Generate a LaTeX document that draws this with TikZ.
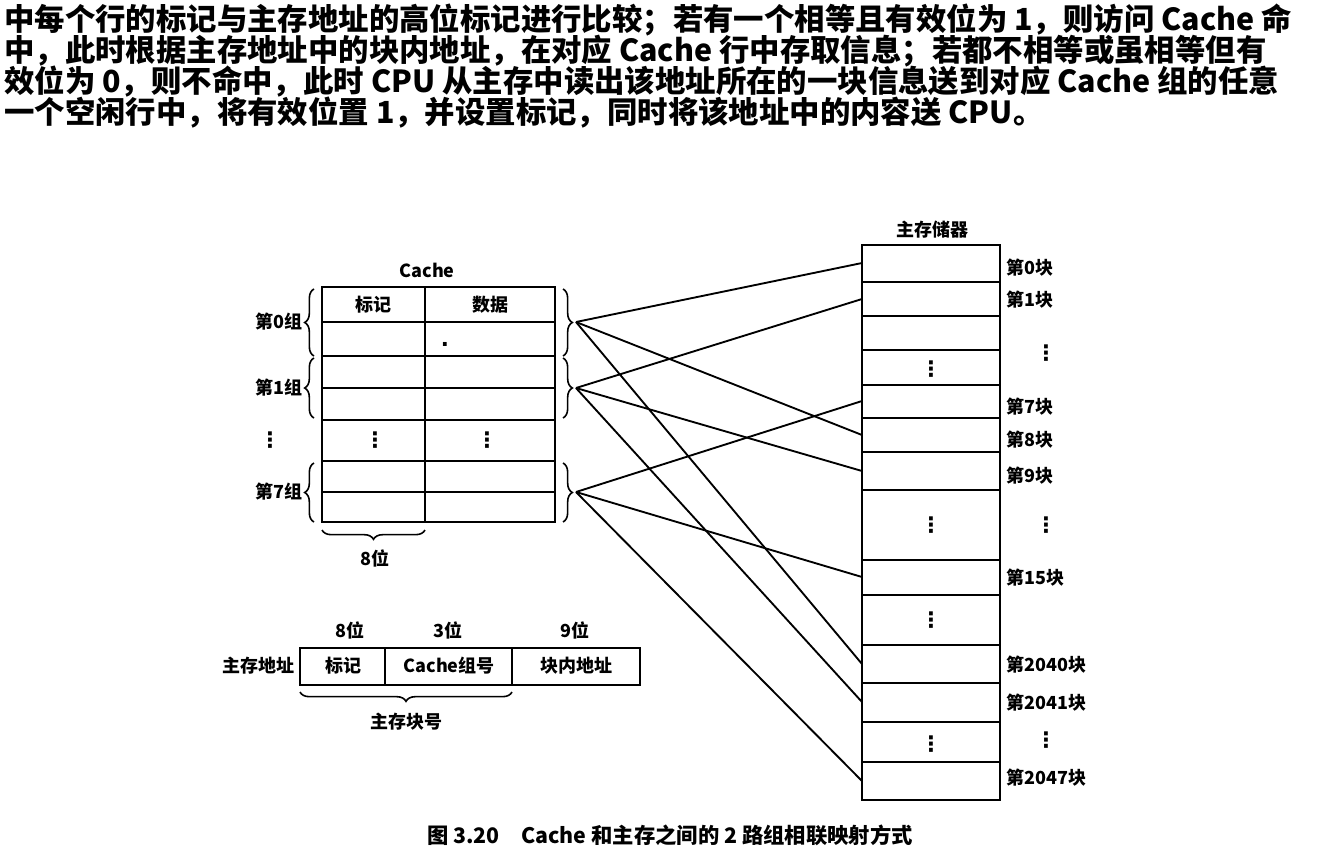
\documentclass[tikz,border=0pt]{standalone}
\usepackage{fontspec}
\setmainfont{Liberation Serif}
\newfontfamily\cjk{Noto Sans CJK SC}
\newfontfamily\dv{DejaVu Sans}
\usetikzlibrary{decorations.pathreplacing}
\tikzset{
  ln/.style={line width=1.4pt},
  br/.style={line width=1.2pt,decorate,decoration={brace,amplitude=7pt}},
  lab/.style={font=\cjk\fontsize{13.5}{13.5}\selectfont\bfseries, inner sep=0pt},
  vd/.style={font=\dv\fontsize{16}{16}\selectfont\bfseries, inner sep=0pt},
  para/.style={font=\cjk\fontsize{22.8}{22.8}\selectfont\bfseries, inner sep=0pt, anchor=west}
}
\begin{document}
\begin{tikzpicture}[x=0.75pt,y=-0.75pt]
\useasboundingbox (0,0) rectangle (1344,860);
% paragraph
\node[para] (p1) at (4,20) {中每个行的标记与主存地址的高位标记进行比较；若有一个相等且有效位为 1，则访问 Cache 命};
\node[para] (p2) at (4,51) {中，此时根据主存地址中的块内地址，在对应 Cache 行中存取信息；若都不相等或虽相等但有};
\node[para] (p3) at (4,82) {效位为 0，则不命中，此时 CPU 从主存中读出该地址所在的一块信息送到对应 Cache 组的任意};
\node[para] (p4) at (4,113) {一个空闲行中，将有效位置 1，并设置标记，同时将该地址中的内容送 CPU。};
% cache table
\node[lab] (ct) at (427,270) {Cache};
\draw[ln] (322,287) rectangle (555,522);
\foreach \y in {322,356,388,420,461,492} \draw[ln] (322,\y) -- (555,\y);
\draw[ln] (425,287) -- (425,522);
\node[lab] (h1) at (373,305) {标记};
\node[lab] (h2) at (490,305) {数据};
\node[vd] (dot) at (445,344) {.};
\node[vd] (v1) at (375,440) {⋮};
\node[vd] (v2) at (487,440) {⋮};
\node[vd] (v3) at (270,440) {⋮};
% left braces
\draw[br] (314,356) -- (314,289);
\draw[br] (314,418) -- (314,358);
\draw[br] (314,522) -- (314,463);
\node[lab,anchor=east] (gl0) at (303,322) {第0组};
\node[lab,anchor=east] (gl1) at (303,388) {第1组};
\node[lab,anchor=east] (gl7) at (303,492) {第7组};
% right braces
\draw[br] (563,289) -- (563,356);
\draw[br] (563,358) -- (563,418);
\draw[br] (563,463) -- (563,522);
\coordinate (g0) at (576,322);
\coordinate (g1) at (576,388);
\coordinate (g7) at (576,492);
% 8 bit brace
\draw[br] (425,530) -- (322,530);
\node[lab] (b8) at (375,558) {8位};
% memory
\node[lab] (mt) at (932,230) {主存储器};
\draw[ln] (862,245) rectangle (1000,800);
\foreach \y in {282,316,350,385,418,452,490,560,595,645,683,722,762} \draw[ln] (862,\y) -- (1000,\y);
\foreach \n/\y in {0/263,1/299,7/401,8/435,9/471,15/577,2040/664,2041/702,2047/781} \coordinate (m\n) at (862,\y);
\node[vd] (mv1) at (931,369) {⋮};
\node[vd] (mv2) at (931,525) {⋮};
\node[vd] (mv3) at (931,620) {⋮};
\node[vd] (mv4) at (931,744) {⋮};
\foreach \t/\y in {第0块/268,第1块/300,第7块/407,第8块/440,第9块/476,第15块/578,第2040块/665,第2041块/703,第2047块/778}
  \node[lab,anchor=west] at (1006,\y) {\t};
\node[vd] (rv1) at (1046,353) {⋮};
\node[vd] (rv2) at (1046,525) {⋮};
\node[vd] (rv3) at (1046,740) {⋮};
% connectors
\draw[ln] (g0) -- (m0); \draw[ln] (g0) -- (m8); \draw[ln] (g0) -- (m2040);
\draw[ln] (g1) -- (m1); \draw[ln] (g1) -- (m9); \draw[ln] (g1) -- (m2041);
\draw[ln] (g7) -- (m7); \draw[ln] (g7) -- (m15); \draw[ln] (g7) -- (m2047);
% address
\draw[ln] (300,648) rectangle (640,685);
\draw[ln] (385,648) -- (385,685);
\draw[ln] (512,648) -- (512,685);
\node[lab] (a1) at (343,666) {标记};
\node[lab] (a2) at (449,666) {Cache组号};
\node[lab] (a3) at (576,666) {块内地址};
\node[lab] (w1) at (350,630) {8位};
\node[lab] (w2) at (448,630) {3位};
\node[lab] (w3) at (575,630) {9位};
\node[lab,anchor=east] (al) at (295,666) {主存地址};
\draw[br] (512,692) -- (300,692);
\node[lab] (blk) at (406,722) {主存块号};
% caption
\node[font=\cjk\fontsize{16}{16}\selectfont\bfseries, inner sep=0pt] (cap) at (670,835) {图 3.20\quad Cache 和主存之间的 2 路组相联映射方式};
\end{tikzpicture}
\end{document}
